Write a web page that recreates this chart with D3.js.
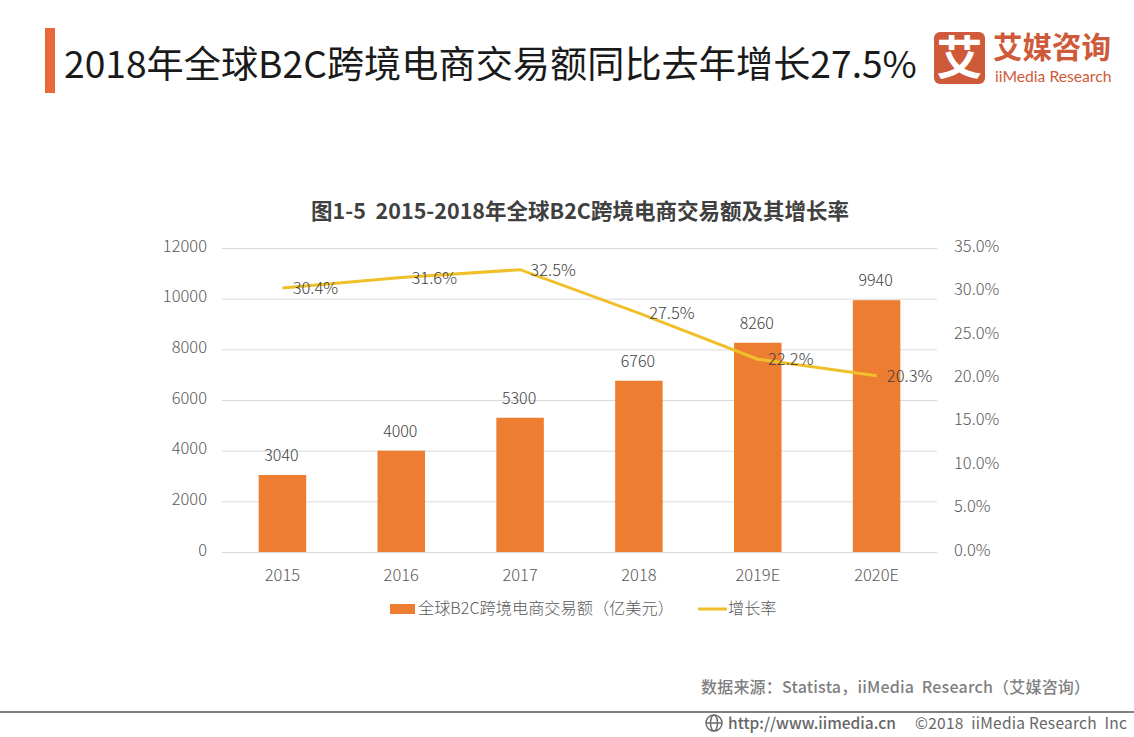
<!DOCTYPE html>
<html>
<head>
<meta charset="utf-8">
<script src="https://cdnjs.cloudflare.com/ajax/libs/d3/7.8.5/d3.min.js"></script>
<style>
  html, body { margin: 0; padding: 0; background: #fff; }
  text { font-family: "Noto Sans CJK SC", "Noto Sans", sans-serif; white-space: pre; }
</style>
</head>
<body>
<svg id="chart" width="1134" height="737"></svg>
<script>
var categories = ["2015", "2016", "2017", "2018", "2019E", "2020E"];
var amounts = [3040, 4000, 5300, 6760, 8260, 9940];
var rates = [30.4, 31.6, 32.5, 27.5, 22.2, 20.3];
var amountTicks = [0, 2000, 4000, 6000, 8000, 10000, 12000];
var rateTicks = [0, 5, 10, 15, 20, 25, 30, 35];

var svg = d3.select("#chart");

var x = d3.scaleBand().domain(categories).range([223, 936]);
var yLeft = d3.scaleLinear().domain([0, 12000]).range([552, 248]);
var yRight = d3.scaleLinear().domain([0, 35]).range([552, 248]);
var barWidth = 47.5;

// header
svg.append("rect").attr("x", 45).attr("y", 28).attr("width", 10).attr("height", 65).style("fill", "#e9683a");
svg.append("text").attr("x", 64).attr("y", 78)
  .style("font-size", "37.2px").style("fill", "#1a1a1a")
  .text("2018年全球B2C跨境电商交易额同比去年增长27.5%");

// logo
svg.append("rect").attr("x", 934).attr("y", 32).attr("width", 51).attr("height", 52).attr("rx", 6).style("fill", "#cf5a3a");
svg.append("text").attr("x", 959.5).attr("y", 74).attr("text-anchor", "middle")
  .style("font-size", "46px").style("font-weight", 700).style("fill", "#fff").text("艾");
svg.append("text").attr("x", 993).attr("y", 58)
  .style("font-size", "29.5px").style("font-weight", 700).style("fill", "#cf5a3a").text("艾媒咨询");
svg.append("text").attr("x", 995).attr("y", 82)
  .style("font-family", "Lato").style("font-size", "15.7px").style("fill", "#cf5a3a").text("iiMedia Research");

// chart title
svg.append("text").attr("x", 580).attr("y", 219).attr("text-anchor", "middle")
  .style("font-size", "21.5px").style("font-weight", 700).style("fill", "#404040")
  .text("图1-5  2015-2018年全球B2C跨境电商交易额及其增长率");

// grid
svg.append("g").selectAll("line").data(amountTicks).join("line")
  .attr("x1", 222).attr("x2", 937)
  .attr("y1", function(d) { return yLeft(d) + 0.5; })
  .attr("y2", function(d) { return yLeft(d) + 0.5; })
  .style("stroke", "#d9d9d9").style("stroke-width", 1);

// axes
var axisLeft = svg.append("g").attr("transform", "translate(222,-2)")
  .call(d3.axisLeft(yLeft).tickValues(amountTicks).tickSize(0).tickPadding(15).tickFormat(d3.format("d")));
var axisRight = svg.append("g").attr("transform", "translate(937,-2)")
  .call(d3.axisRight(yRight).tickValues(rateTicks).tickSize(0).tickPadding(17).tickFormat(function(d) { return d.toFixed(1) + "%"; }));
var axisBottom = svg.append("g").attr("transform", "translate(0,552)")
  .call(d3.axisBottom(x).tickSize(0).tickPadding(17));
[axisLeft, axisRight, axisBottom].forEach(function(a) {
  a.select(".domain").remove();
  a.selectAll("text").style("font-size", "16.5px").style("font-family", "\"Noto Sans CJK SC\"").style("font-weight", 300).style("fill", "#595959");
});

// bars
svg.append("g").selectAll("rect").data(amounts).join("rect")
  .attr("x", function(d, i) { return x(categories[i]) + x.bandwidth() / 2 - barWidth / 2; })
  .attr("y", function(d) { return yLeft(d); })
  .attr("width", barWidth)
  .attr("height", function(d) { return yLeft(0) - yLeft(d); })
  .style("fill", "#ed7d31");

svg.append("g").selectAll("text").data(amounts).join("text")
  .attr("x", function(d, i) { return x(categories[i]) + x.bandwidth() / 2 - 1; })
  .attr("y", function(d) { return yLeft(d) - 14; })
  .attr("text-anchor", "middle")
  .style("font-size", "16px").style("font-weight", 300).style("fill", "#404040")
  .text(function(d) { return d; });

// rate line
var line = d3.line()
  .x(function(d, i) { return x(categories[i]) + x.bandwidth() / 2; })
  .y(function(d) { return yRight(d); });
svg.append("path").datum(rates).attr("d", line)
  .style("fill", "none").style("stroke", "#efc02a").style("stroke-width", 3);

svg.append("g").selectAll("text").data(rates).join("text")
  .attr("x", function(d, i) { return x(categories[i]) + x.bandwidth() / 2 + 33; })
  .attr("y", function(d) { return yRight(d) + 6; })
  .attr("text-anchor", "middle")
  .style("font-size", "16.5px").style("font-weight", 300).style("fill", "#404040")
  .text(function(d) { return d.toFixed(1) + "%"; });

// legend
svg.append("rect").attr("x", 390).attr("y", 604).attr("width", 25).attr("height", 10).style("fill", "#ed7d31");
svg.append("text").attr("x", 418).attr("y", 614)
  .style("font-size", "16.2px").style("font-weight", 300).style("fill", "#595959").text("全球B2C跨境电商交易额（亿美元）");
svg.append("line").attr("x1", 698).attr("x2", 727).attr("y1", 609).attr("y2", 609)
  .style("stroke", "#efc02a").style("stroke-width", 3);
svg.append("text").attr("x", 728).attr("y", 614)
  .style("font-size", "16.2px").style("font-weight", 300).style("fill", "#595959").text("增长率");

// footer
svg.append("text").attr("x", 701).attr("y", 693)
  .style("font-size", "16px").style("font-weight", 500).style("letter-spacing", "0.2px").style("fill", "#7f7f7f")
  .text("数据来源：Statista，iiMedia  Research（艾媒咨询）");
svg.append("rect").attr("x", 0).attr("y", 711).attr("width", 1134).attr("height", 2).style("fill", "#7f7f7f");
var globe = svg.append("g").attr("transform", "translate(714,723)")
  .style("fill", "none").style("stroke", "#6b6b6b").style("stroke-width", 1.5);
globe.append("circle").attr("r", 8);
globe.append("ellipse").attr("rx", 3.5).attr("ry", 8);
globe.append("line").attr("x1", -8).attr("x2", 8);
svg.append("text").attr("x", 728).attr("y", 729)
  .style("font-size", "15.5px").style("font-weight", 500).style("fill", "#666").text("http://www.iimedia.cn");
svg.append("text").attr("x", 915).attr("y", 729)
  .style("font-size", "15.5px").style("letter-spacing", "0.27px").style("fill", "#666").text("©2018  iiMedia Research  Inc");
</script>
</body>
</html>
